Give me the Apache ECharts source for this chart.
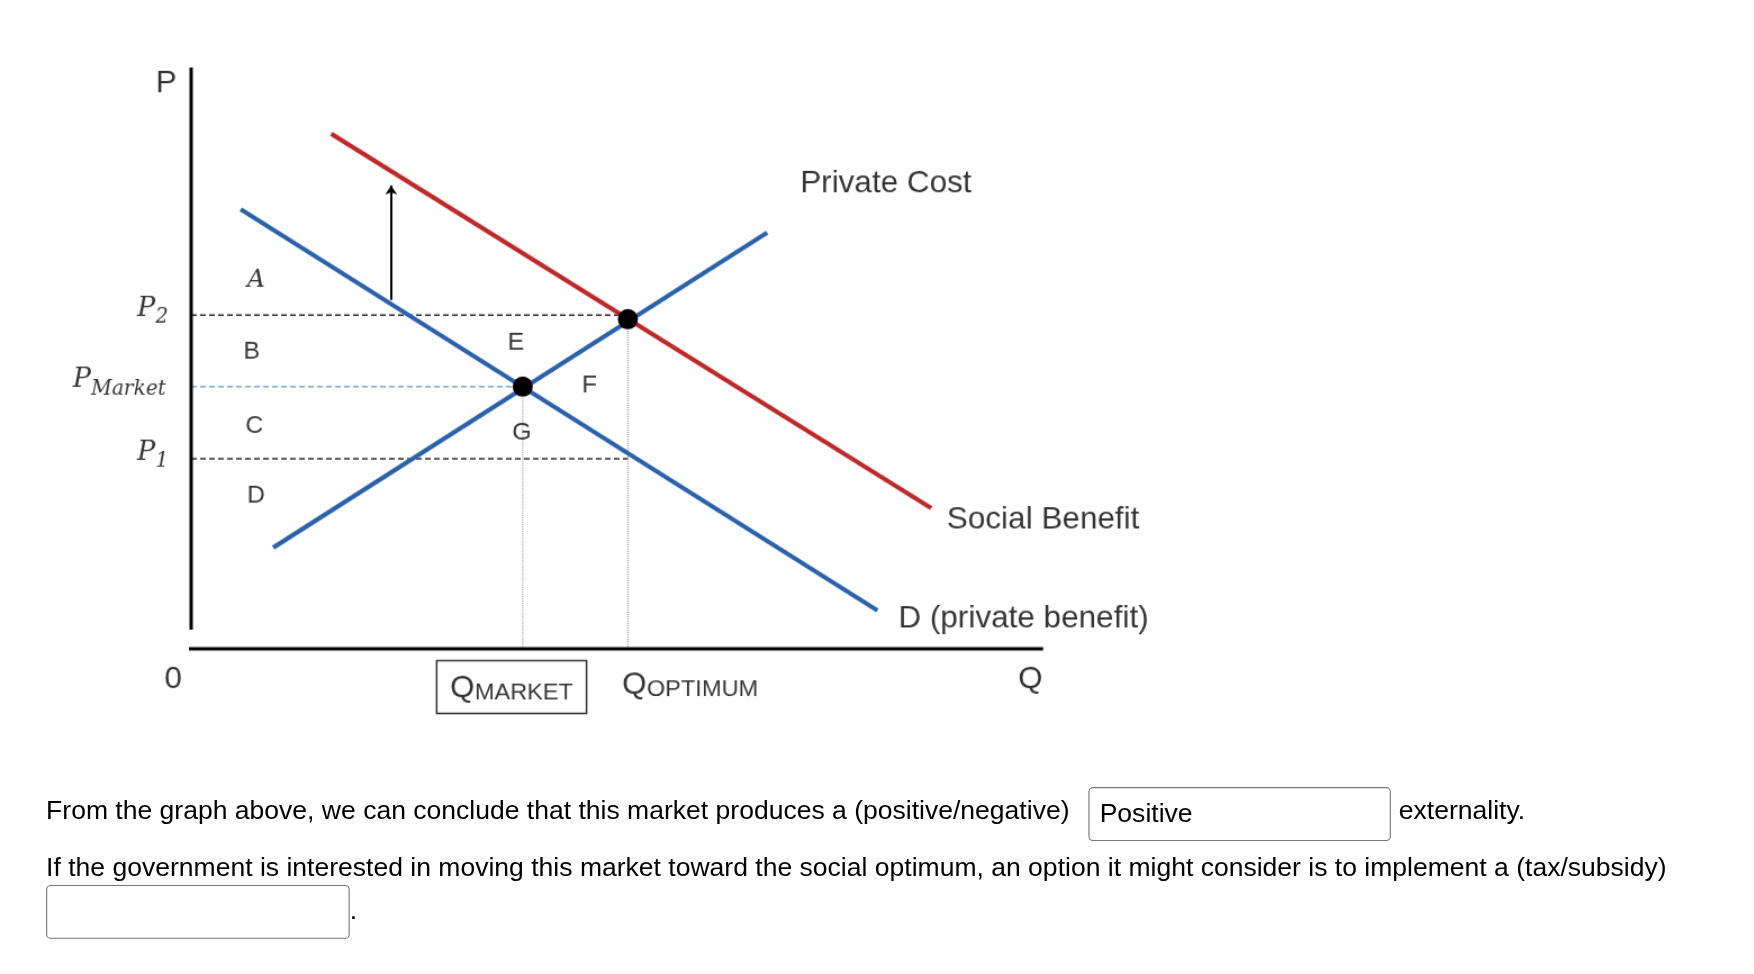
<!DOCTYPE html>
<html>
<head>
<meta charset="utf-8">
<script src="https://cdn.jsdelivr.net/npm/echarts@6/dist/echarts.min.js"></script>
<style>
body { margin: 0; background: #fff; overflow: hidden; }
#wrap { position: absolute; left: 0; top: 0; width: 1560px; height: 866px; transform: scale(1.1244); transform-origin: 0 0; font-family: Arial, "Liberation Sans", sans-serif; }
#chart { position: absolute; left: 0; top: 0; width: 1560px; height: 680px; }
.q { position: absolute; font-size: 23.6px; color: #000; white-space: nowrap; }
.box { position: absolute; border: 1px solid #777; border-radius: 4px; background: #fff; }
</style>
</head>
<body>
<div id="wrap">
  <div id="chart"></div>
  <div class="q" style="left:41px;top:707px;">From the graph above, we can conclude that this market produces a (positive/negative)</div>
  <div class="box" style="left:968px;top:700px;width:267px;height:46px;"><span class="q" style="left:9px;top:9px;">Positive</span></div>
  <div class="q" style="left:1244px;top:707px;">externality.</div>
  <div class="q" style="left:41px;top:758px;">If the government is interested in moving this market toward the social optimum, an option it might consider is to implement a (tax/subsidy)</div>
  <div class="box" style="left:41px;top:787px;width:268px;height:46px;"></div>
  <div class="q" style="left:311px;top:796px;">.</div>
</div>
<script>
// curves, in chart units (Q 0..100, P 0..100)
var supply = [[9.6, 17.4], [67.4, 71.6]];
var demand = [[5.8, 75.6], [80.3, 6.6]];
var socialBenefit = [[16.4, 88.6], [86.6, 24.2]];
var equilibria = [[38.8, 45.1], [51.1, 56.7]];
var p2 = 57.4, pMarket = 45.1, p1 = 32.7;
var qMarket = 38.8, qOptimum = 51.1;
var arrowX = 23.4, arrowFrom = 60.0, arrowTo = 79.7;
var areaLabels = [
  ['A', 7.6, 63.4, true], ['B', 7.1, 51.1, false], ['C', 7.4, 38.3, false], ['D', 7.6, 26.3, false],
  ['E', 38.0, 52.6, false], ['F', 46.6, 45.3, false], ['G', 38.7, 37.1, false]
];

var chart = echarts.init(document.getElementById('chart'));
var blue = '#2b62ad', red = '#c0282a';

function seg(data, color, width, type, z) {
  return { type: 'line', data: data, symbol: 'none', silent: true, z: z || 2, clip: false,
    lineStyle: { color: color, width: width, type: type || 'solid' } };
}
var plbl = function (name, sub, y, x) {
  return { value: [x, y], label: { formatter: '{p|' + name + '}{s|' + sub + '}' } };
};

chart.setOption({
  animation: false,
  grid: { left: 170, right: 1560 - 930, top: 60, bottom: 680 - 577 },
  xAxis: { type: 'value', min: 0, max: 100, show: false },
  yAxis: { type: 'value', min: 0, max: 100, show: false },
  series: [
    seg([[0, 3.3], [0, 100]], '#000', 3),
    seg([[-2, 0], [99.7, 0]], '#000', 3),
    seg([[0, p2], [qOptimum, p2]], '#333', 1.5, [5, 3], 1),
    seg([[0, pMarket], [qMarket, pMarket]], '#5b9bd5', 1.2, [5, 3], 1),
    seg([[0, p1], [qOptimum, p1]], '#333', 1.5, [5, 3], 1),
    seg([[qMarket, pMarket], [qMarket, 0]], '#888', 1, [1, 1], 1),
    seg([[qOptimum, equilibria[1][1]], [qOptimum, 0]], '#888', 1, [1, 1], 1),
    seg(supply, blue, 4),
    seg(demand, blue, 4),
    seg(socialBenefit, red, 4),
    { type: 'lines', coordinateSystem: 'cartesian2d', silent: true, z: 3,
      data: [{ coords: [[arrowX, arrowFrom], [arrowX, arrowTo]] }],
      symbol: ['none', 'arrow'], symbolSize: 8, lineStyle: { color: '#000', width: 2, opacity: 1 } },
    { type: 'scatter', data: equilibria, symbolSize: 18, itemStyle: { color: '#000', opacity: 1 }, z: 5, silent: true },
    { type: 'scatter', symbolSize: 0, silent: true, z: 6, clip: false,
      data: areaLabels.map(function (a) {
        return { value: [a[1], a[2]], label: { formatter: a[0],
          fontFamily: a[3] ? 'DejaVu Serif' : 'Arial', fontStyle: a[3] ? 'italic' : 'normal' } };
      }),
      label: { show: true, position: 'inside', fontSize: 22, color: '#000', fontFamily: 'Arial' } },
    { type: 'scatter', symbolSize: 0, silent: true, z: 6, clip: false,
      data: [plbl('P', '2', p2 + 0.5, -4.5), plbl('P', 'Market', pMarket + 0.5, -8.4), plbl('P', '1', p1 + 0.5, -4.5)],
      label: { show: true, position: 'inside', color: '#000',
        rich: { p: { fontSize: 24, fontStyle: 'italic', fontFamily: 'DejaVu Serif', color: '#000', padding: [0, 0, 6, 0] },
                s: { fontSize: 18, fontStyle: 'italic', fontFamily: 'DejaVu Serif', color: '#000', padding: [10, 0, 0, 0] } } } },
    { type: 'scatter', symbolSize: 0, silent: true, z: 6, clip: false,
      data: [
        { value: [-2.9, 97.3], label: { formatter: 'P' } },
        { value: [-2.1, -5.2], label: { formatter: '0' } },
        { value: [98.2, -5.2], label: { formatter: 'Q' } },
        { value: [81.3, 80.1], label: { formatter: 'Private Cost' } },
        { value: [99.7, 22.2], label: { formatter: 'Social Benefit' } },
        { value: [97.4, 5.2], label: { formatter: 'D (private benefit)' } },
        { value: [37.5, -6.6], label: { formatter: '{b|Q}{s|MARKET}', borderColor: '#000', borderWidth: 1.5, padding: [10, 12, 8, 12] } },
        { value: [58.4, -6.3], label: { formatter: '{b|Q}{s|OPTIMUM}' } }
      ],
      label: { show: true, position: 'inside', fontSize: 28, color: '#000', fontFamily: 'Arial',
        rich: { b: { fontSize: 28, fontFamily: 'Arial', color: '#000' }, s: { fontSize: 21, fontFamily: 'Arial', color: '#000', padding: [8, 0, 0, 0] } } } }
  ]
});
</script>
</body>
</html>
